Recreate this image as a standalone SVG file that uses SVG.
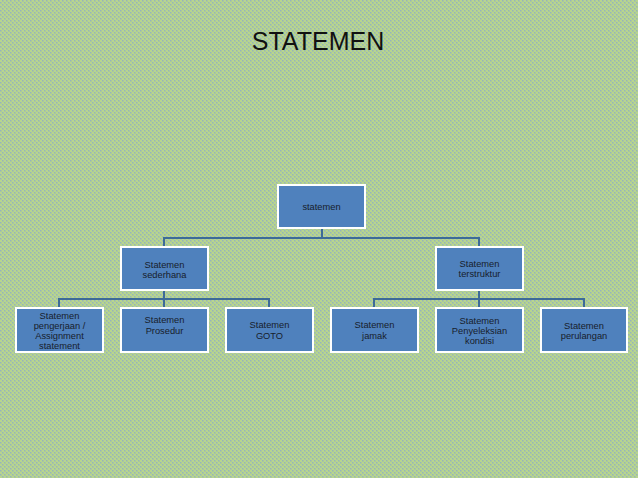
<svg xmlns="http://www.w3.org/2000/svg" width="638" height="478" viewBox="0 0 638 478">
<defs>
<pattern id="bg" x="0" y="0" width="4" height="4" patternUnits="userSpaceOnUse">
<rect width="4" height="4" fill="#a9c79e"/>
<rect x="0" y="0" width="2" height="2" fill="#b8d58e"/>
<rect x="2" y="2" width="2" height="2" fill="#b8d58e"/>
<rect x="2" y="0" width="1" height="1" fill="#95b2bf"/>
<rect x="0" y="2" width="1" height="1" fill="#95b2bf"/>
</pattern>
<style>
.box{fill:#4f81bd;stroke:#ffffff;stroke-width:2}
.t{font-family:"Liberation Sans",Arial,sans-serif;font-size:9.3px;fill:#17202c;text-anchor:middle}
.c{fill:none;stroke:#3d6b98;stroke-width:2}
</style>
</defs>
<rect width="638" height="478" fill="url(#bg)"/>
<text x="318" y="50" font-family="'Liberation Sans',Arial,sans-serif" font-size="25" fill="#111111" text-anchor="middle">STATEMEN</text>
<g id="connectors">
<path class="c" d="M322 228V238M164 246V238H479V246"/>
<path class="c" d="M164 290V299M59 308V299H269V308M164 299V308"/>
<path class="c" d="M479 290V299M374 308V299H584V308M479 299V308"/>
</g>
<g id="n-statemen"><rect class="box" x="278" y="185" width="87" height="43"/><text class="t" x="321.5" y="210">statemen</text></g>
<g id="n-sederhana"><rect class="box" x="121" y="247" width="87" height="43"/><text class="t" x="164.5" y="268">Statemen</text><text class="t" x="164.5" y="278">sederhana</text></g>
<g id="n-terstruktur"><rect class="box" x="436" y="247" width="87" height="43"/><text class="t" x="479.5" y="267">Statemen</text><text class="t" x="479.5" y="277">terstruktur</text></g>
<g id="n-pengerjaan"><rect class="box" x="16" y="308" width="87" height="44"/><text class="t" x="59.5" y="319">Statemen</text><text class="t" x="59.5" y="329">pengerjaan /</text><text class="t" x="59.5" y="339">Assignment</text><text class="t" x="59.5" y="349">statement</text></g>
<g id="n-prosedur"><rect class="box" x="121" y="308" width="87" height="44"/><text class="t" x="164.5" y="323">Statemen</text><text class="t" x="164.5" y="334">Prosedur</text></g>
<g id="n-goto"><rect class="box" x="226" y="308" width="87" height="44"/><text class="t" x="269.5" y="328">Statemen</text><text class="t" x="269.5" y="339">GOTO</text></g>
<g id="n-jamak"><rect class="box" x="331" y="308" width="87" height="44"/><text class="t" x="374.5" y="328">Statemen</text><text class="t" x="374.5" y="339">jamak</text></g>
<g id="n-penyeleksian"><rect class="box" x="436" y="308" width="87" height="44"/><text class="t" x="479.5" y="324">Statemen</text><text class="t" x="479.5" y="334">Penyeleksian</text><text class="t" x="479.5" y="344">kondisi</text></g>
<g id="n-perulangan"><rect class="box" x="541" y="308" width="86" height="44"/><text class="t" x="584" y="329">Statemen</text><text class="t" x="584" y="339">perulangan</text></g>
</svg>
